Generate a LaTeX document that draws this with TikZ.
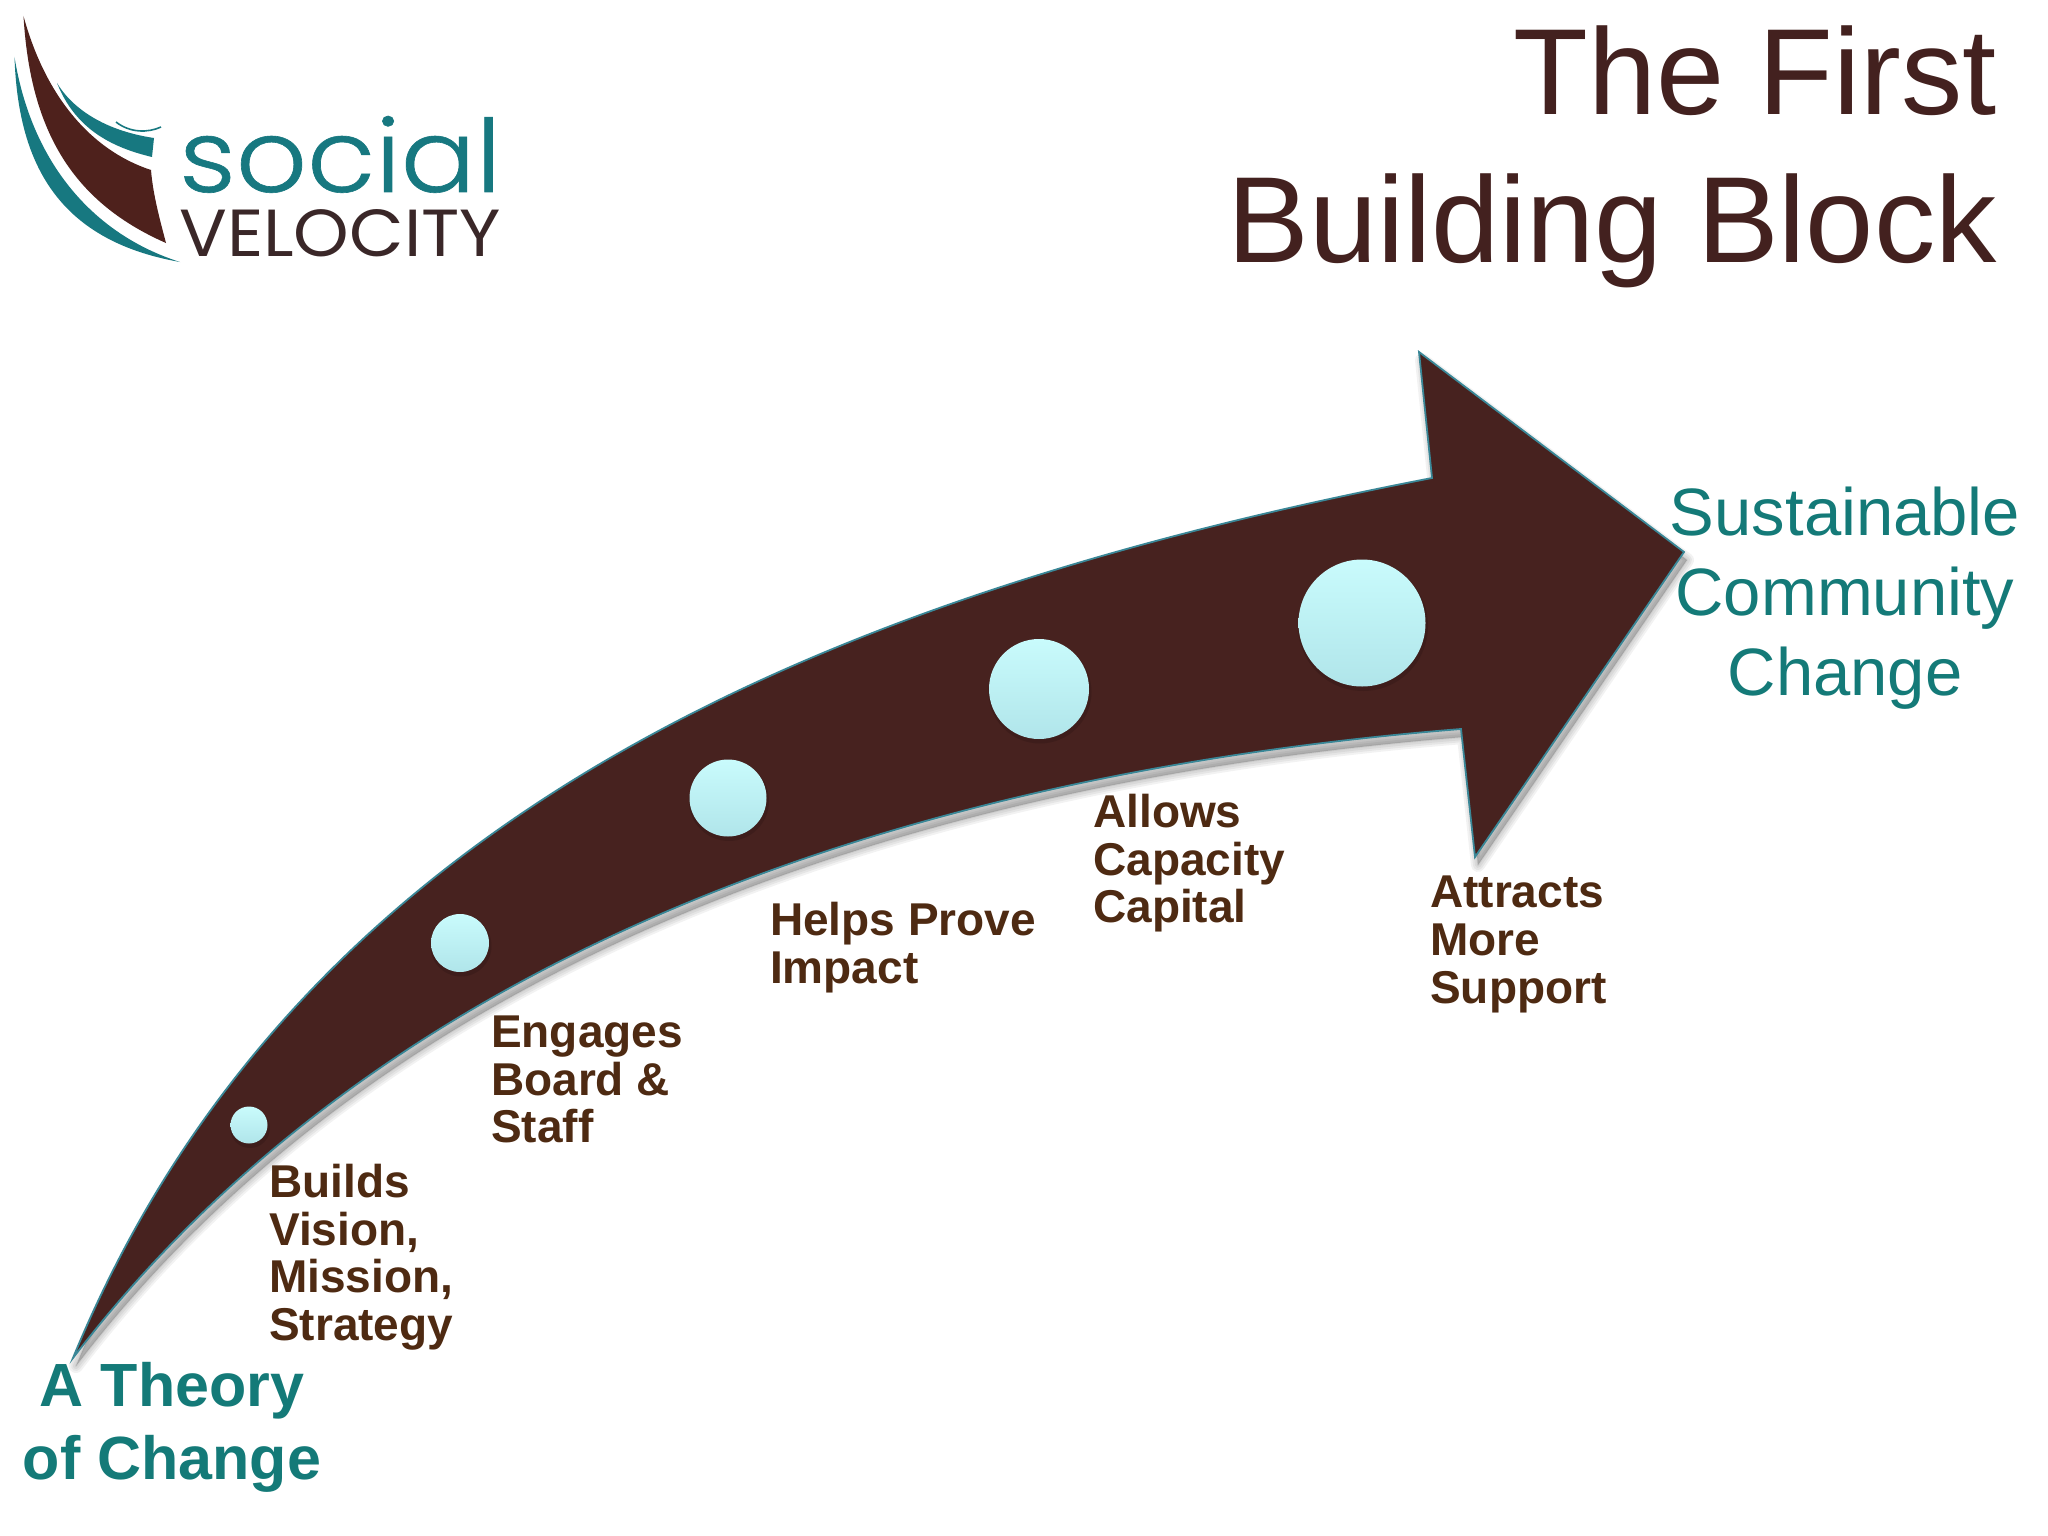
\documentclass[tikz,border=0pt]{standalone}
\usepackage{fontspec}
\usepackage{graphicx}
\setmainfont{Liberation Sans}
\newfontfamily\logofont{Poppins}
\newfontfamily\logolight[UprightFont=* Light,FakeBold=0.6]{Poppins}
\definecolor{archoco}{HTML}{47221F}
\definecolor{titlebrown}{HTML}{43211F}
\definecolor{labelbrown}{HTML}{4E2A12}
\definecolor{tealtext}{HTML}{147A78}
\definecolor{edgeteal}{HTML}{3A8797}
\definecolor{logoteal}{HTML}{177880}
\definecolor{logobrown}{HTML}{4E211C}
\definecolor{logodark}{HTML}{3A2728}
\definecolor{ballhi}{HTML}{C9FBFC}
\definecolor{balllo}{HTML}{B0E5EA}
\newcommand{\arrowshape}{(73,1358) .. controls (290,830) and (800,600) .. (1432,478) -- (1419,352) -- (1684,552) -- (1475,857) -- (1461,729) .. controls (950,770) and (400,930) .. (73,1358) -- cycle}
\tikzset{
  x=1pt,y=-1pt,
  titletext/.style={anchor=base east,inner sep=0,text=titlebrown,font=\fontsize{122.5}{122.5}\selectfont},
  steplabel/.style={anchor=base west,inner sep=0,text=labelbrown,font=\fontsize{46}{48}\selectfont\bfseries},
  goalline/.style={anchor=base,inner sep=0,text=tealtext,font=\fontsize{67}{67}\selectfont},
  startline/.style={anchor=base,inner sep=0,text=tealtext,font=\fontsize{61}{61}\selectfont\bfseries},
  ball/.style={circle,inner sep=0,minimum size=#1,top color=ballhi,bottom color=balllo,draw=none},
  ballshadow/.style={circle,inner sep=0,minimum size=#1,fill=black,fill opacity=.12,draw=none},
}
\begin{document}
\begin{tikzpicture}
\useasboundingbox (0,0) rectangle (2048,1536);
\fill[white] (0,0) rectangle (2048,1536);

% logo
\fill[logobrown] (23.5,16) .. controls (30,125) and (68,200) .. (166,243)
  .. controls (160,220) and (153,195) .. (151,170)
  .. controls (90,150) and (45,95) .. (23.5,16) -- cycle;
\fill[logoteal] (14.5,57) .. controls (18,160) and (55,240) .. (180,262)
  .. controls (95,235) and (32,165) .. (14.5,57) -- cycle;
\fill[logoteal] (57,83) .. controls (70,105) and (100,130) .. (154,138)
  -- (152,157) .. controls (110,147) and (75,128) .. (57,83) -- cycle;
\draw[logoteal,line width=1.6] (116,122) .. controls (130,133) and (148,133) .. (161,127);
\node[anchor=south west,inner sep=0,text=logoteal,font=\logolight\fontsize{60}{60}\selectfont] (social) at (179,193)
  {\resizebox{322pt}{76pt}{social}};
\node[anchor=south west,inner sep=0,text=logodark,font=\logofont\fontsize{40}{40}\selectfont] (velocity) at (179,257)
  {\resizebox{322pt}{47pt}{VELOCITY}};

% title
\node[titletext] (t1) at (1997,115) {The First};
\node[titletext] (t2) at (1997,262) {Building Block};

% arrow shadow
\foreach \w in {14,10,6,2}{
  \fill[black,opacity=.05,shift={(3,8)}] \arrowshape;
  \draw[black,opacity=.05,line width=\w,shift={(3,8)},line join=round] \arrowshape;
}
\fill[archoco,draw=edgeteal,line width=1.8,line join=miter] \arrowshape;

% balls
\foreach \n/\cx/\cy/\d in {a/249/1125/37,b/460/943/58,c/728/798/77,d/1039/689/100,e/1362/623/127}{
  \node[ballshadow=\d+3] at (\cx+1,\cy+3) {};
  \node[ball=\d] (\n) at (\cx,\cy) {};
}

% labels
\node[steplabel] (l1a) at (269,1197) {Builds};
\node[steplabel] (l1b) at (269,1245) {Vision,};
\node[steplabel] (l1c) at (269,1292) {Mission,};
\node[steplabel] (l1d) at (269,1340) {Strategy};
\node[steplabel] (l2a) at (491,1047) {Engages};
\node[steplabel] (l2b) at (491,1095) {Board \&};
\node[steplabel] (l2c) at (491,1142) {Staff};
\node[steplabel] (l3a) at (770,935) {Helps Prove};
\node[steplabel] (l3b) at (770,983) {Impact};
\node[steplabel] (l4a) at (1093,827) {Allows};
\node[steplabel] (l4b) at (1093,875) {Capacity};
\node[steplabel] (l4c) at (1093,922) {Capital};
\node[steplabel] (l5a) at (1430,907) {Attracts};
\node[steplabel] (l5b) at (1430,955) {More};
\node[steplabel] (l5c) at (1430,1003) {Support};

\node[startline] (s1) at (172,1406) {A Theory};
\node[startline] (s2) at (172,1479) {of Change};
\node[goalline] (g1) at (1845,535) {Sustainable};
\node[goalline] (g2) at (1845,615) {Community};
\node[goalline] (g3) at (1845,695) {Change};
\end{tikzpicture}
\end{document}
